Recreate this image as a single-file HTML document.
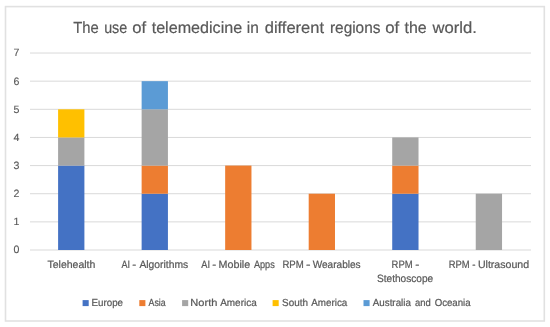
<!DOCTYPE html>
<html><head><meta charset="utf-8"><style>
html,body{margin:0;padding:0;background:#fff;}
body{width:550px;height:327px;overflow:hidden;}
svg{display:block;}
text{text-rendering:geometricPrecision;font-family:"Liberation Sans",Arial,sans-serif;fill:#595959;stroke:#595959;}
.ax{font-size:10.6px;stroke-width:0.22px;}
.yx{font-size:10.6px;stroke-width:0.12px;}
.lg{font-size:10.2px;stroke-width:0.22px;}
.ti{font-size:16.1px;stroke-width:0.2px;}
</style></head><body>
<svg width="550" height="327" viewBox="0 0 550 327">
<rect width="550" height="327" fill="#fff"/>
<rect x="5.5" y="6.6" width="538.8" height="314.4" fill="#fff" stroke="#e1e1e1" stroke-width="1.6"/>
<line x1="30" y1="250.00" x2="531" y2="250.00" stroke="#d9d9d9" stroke-width="1"/>
<line x1="30" y1="221.86" x2="531" y2="221.86" stroke="#d9d9d9" stroke-width="1"/>
<line x1="30" y1="193.72" x2="531" y2="193.72" stroke="#d9d9d9" stroke-width="1"/>
<line x1="30" y1="165.58" x2="531" y2="165.58" stroke="#d9d9d9" stroke-width="1"/>
<line x1="30" y1="137.44" x2="531" y2="137.44" stroke="#d9d9d9" stroke-width="1"/>
<line x1="30" y1="109.30" x2="531" y2="109.30" stroke="#d9d9d9" stroke-width="1"/>
<line x1="30" y1="81.16" x2="531" y2="81.16" stroke="#d9d9d9" stroke-width="1"/>
<line x1="30" y1="53.02" x2="531" y2="53.02" stroke="#d9d9d9" stroke-width="1"/>
<rect x="58.10" y="165.58" width="26.3" height="84.42" fill="#4472c4"/>
<rect x="58.10" y="137.44" width="26.3" height="28.14" fill="#a5a5a5"/>
<rect x="58.10" y="109.30" width="26.3" height="28.14" fill="#ffc000"/>
<rect x="141.63" y="193.72" width="26.3" height="56.28" fill="#4472c4"/>
<rect x="141.63" y="165.58" width="26.3" height="28.14" fill="#ed7d31"/>
<rect x="141.63" y="109.30" width="26.3" height="56.28" fill="#a5a5a5"/>
<rect x="141.63" y="81.16" width="26.3" height="28.14" fill="#5b9bd5"/>
<rect x="225.16" y="165.58" width="26.3" height="84.42" fill="#ed7d31"/>
<rect x="308.69" y="193.72" width="26.3" height="56.28" fill="#ed7d31"/>
<rect x="392.22" y="193.72" width="26.3" height="56.28" fill="#4472c4"/>
<rect x="392.22" y="165.58" width="26.3" height="28.14" fill="#ed7d31"/>
<rect x="392.22" y="137.44" width="26.3" height="28.14" fill="#a5a5a5"/>
<rect x="475.75" y="193.72" width="26.3" height="56.28" fill="#a5a5a5"/>
<text x="19.3" y="253.40" text-anchor="end" class="yx">0</text>
<text x="19.3" y="225.26" text-anchor="end" class="yx">1</text>
<text x="19.3" y="197.12" text-anchor="end" class="yx">2</text>
<text x="19.3" y="168.98" text-anchor="end" class="yx">3</text>
<text x="19.3" y="140.84" text-anchor="end" class="yx">4</text>
<text x="19.3" y="112.70" text-anchor="end" class="yx">5</text>
<text x="19.3" y="84.56" text-anchor="end" class="yx">6</text>
<text x="19.3" y="56.42" text-anchor="end" class="yx">7</text>
<text x="47.47" y="267.7" textLength="47.92" lengthAdjust="spacingAndGlyphs" class="ax">Telehealth</text>
<text x="121.58" y="267.7" textLength="8.55" lengthAdjust="spacingAndGlyphs" class="ax">AI</text>
<text x="132.38" y="267.7" textLength="3.94" lengthAdjust="spacingAndGlyphs" class="ax">-</text>
<text x="139.38" y="267.7" textLength="48.79" lengthAdjust="spacingAndGlyphs" class="ax">Algorithms</text>
<text x="201.33" y="267.7" textLength="8.72" lengthAdjust="spacingAndGlyphs" class="ax">AI</text>
<text x="212.38" y="267.7" textLength="3.94" lengthAdjust="spacingAndGlyphs" class="ax">-</text>
<text x="218.52" y="267.7" textLength="31.65" lengthAdjust="spacingAndGlyphs" class="ax">Mobile</text>
<text x="253.88" y="267.7" textLength="20.85" lengthAdjust="spacingAndGlyphs" class="ax">Apps</text>
<text x="282.41" y="267.7" textLength="21.38" lengthAdjust="spacingAndGlyphs" class="ax">RPM</text>
<text x="305.91" y="267.7" textLength="4.49" lengthAdjust="spacingAndGlyphs" class="ax">-</text>
<text x="312.65" y="267.7" textLength="48.01" lengthAdjust="spacingAndGlyphs" class="ax">Wearables</text>
<text x="391.62" y="267.7" textLength="21.06" lengthAdjust="spacingAndGlyphs" class="ax">RPM</text>
<text x="415.26" y="267.7" textLength="4.08" lengthAdjust="spacingAndGlyphs" class="ax">-</text>
<text x="377.03" y="281.5" textLength="56.22" lengthAdjust="spacingAndGlyphs" class="ax">Stethoscope</text>
<text x="448.73" y="267.7" textLength="20.95" lengthAdjust="spacingAndGlyphs" class="ax">RPM</text>
<text x="472.37" y="267.7" textLength="3.26" lengthAdjust="spacingAndGlyphs" class="ax">-</text>
<text x="477.88" y="267.7" textLength="51.30" lengthAdjust="spacingAndGlyphs" class="ax">Ultrasound</text>
<text x="73.27" y="32.5" textLength="25.48" lengthAdjust="spacingAndGlyphs" class="ti">The</text>
<text x="104.17" y="32.5" textLength="23.06" lengthAdjust="spacingAndGlyphs" class="ti">use</text>
<text x="132.30" y="32.5" textLength="13.88" lengthAdjust="spacingAndGlyphs" class="ti">of</text>
<text x="151.66" y="32.5" textLength="90.56" lengthAdjust="spacingAndGlyphs" class="ti">telemedicine</text>
<text x="246.86" y="32.5" textLength="12.05" lengthAdjust="spacingAndGlyphs" class="ti">in</text>
<text x="264.71" y="32.5" textLength="59.31" lengthAdjust="spacingAndGlyphs" class="ti">different</text>
<text x="329.98" y="32.5" textLength="50.47" lengthAdjust="spacingAndGlyphs" class="ti">regions</text>
<text x="385.20" y="32.5" textLength="13.99" lengthAdjust="spacingAndGlyphs" class="ti">of</text>
<text x="404.46" y="32.5" textLength="22.14" lengthAdjust="spacingAndGlyphs" class="ti">the</text>
<text x="432.52" y="32.5" textLength="44.39" lengthAdjust="spacingAndGlyphs" class="ti">world.</text>
<rect x="82.6" y="300.1" width="6.1" height="6" fill="#4472c4"/>
<rect x="139.3" y="300.1" width="6.1" height="6" fill="#ed7d31"/>
<rect x="182.1" y="300.1" width="6.1" height="6" fill="#a5a5a5"/>
<rect x="272.6" y="300.1" width="6.1" height="6" fill="#ffc000"/>
<rect x="363.5" y="300.1" width="6.1" height="6" fill="#5b9bd5"/>
<text x="91.50" y="306.0" textLength="31.54" lengthAdjust="spacingAndGlyphs" class="lg">Europe</text>
<text x="148.58" y="306.0" textLength="17.12" lengthAdjust="spacingAndGlyphs" class="lg">Asia</text>
<text x="190.39" y="306.0" textLength="27.03" lengthAdjust="spacingAndGlyphs" class="lg">North</text>
<text x="220.18" y="306.0" textLength="36.53" lengthAdjust="spacingAndGlyphs" class="lg">America</text>
<text x="282.04" y="306.0" textLength="25.90" lengthAdjust="spacingAndGlyphs" class="lg">South</text>
<text x="311.18" y="306.0" textLength="36.12" lengthAdjust="spacingAndGlyphs" class="lg">America</text>
<text x="372.78" y="306.0" textLength="38.12" lengthAdjust="spacingAndGlyphs" class="lg">Australia</text>
<text x="415.10" y="306.0" textLength="15.70" lengthAdjust="spacingAndGlyphs" class="lg">and</text>
<text x="434.65" y="306.0" textLength="35.96" lengthAdjust="spacingAndGlyphs" class="lg">Oceania</text>
</svg>
</body></html>
